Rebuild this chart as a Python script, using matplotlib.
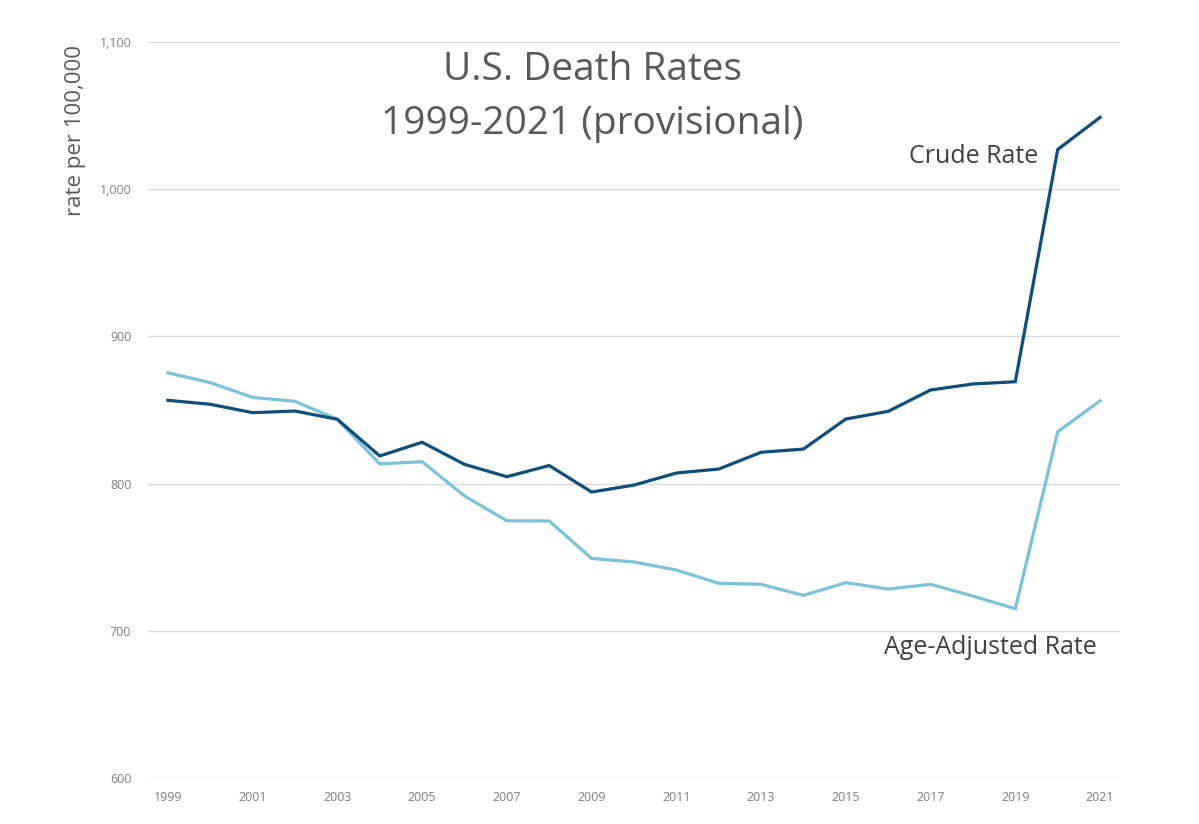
import matplotlib.pyplot as plt

plt.rcParams['font.family'] = ['Open Sans', 'DejaVu Sans']

# data
years = list(range(1999, 2022))
crude = [856.6, 853.9, 848.2, 849.3, 843.7, 818.8, 828.1, 813.1, 804.7, 812.3,
         794.3, 799.0, 807.2, 809.9, 821.3, 823.5, 843.9, 849.1, 863.6, 867.7,
         869.2, 1027.0, 1048.8]
age_adj = [875.3, 868.6, 858.6, 855.9, 843.7, 813.4, 814.9, 791.6, 774.8, 774.6,
           749.2, 746.8, 741.3, 732.3, 731.6, 724.1, 732.7, 728.4, 731.6, 723.6,
           715.0, 835.2, 856.3]
yticks = [600, 700, 800, 900, 1000, 1100]
xticks = list(range(1999, 2022, 2))

fig = plt.figure(figsize=(11.99, 8.24), dpi=100)
ax = fig.add_axes([0.1234, 0.0558, 0.8107, 0.8932])

ax.plot(years, age_adj, color='#78C3D7', lw=2.3, solid_joinstyle='miter')
ax.plot(years, crude, color='#0E4E7B', lw=2.3, solid_joinstyle='miter')

ax.set_xlim(1998.53, 2021.47)
ax.set_ylim(600, 1100)
ax.set_yticks(yticks)
ax.set_yticklabels([f'{v:,}' for v in yticks])
ax.set_xticks(xticks)
ax.yaxis.grid(True, color='#D9D9D9', lw=1)
ax.set_axisbelow(True)
for s in ax.spines.values():
    s.set_visible(False)
ax.tick_params(length=0, labelsize=9, colors='#7F7F7F')
ax.tick_params(axis='y', pad=12)
ax.tick_params(axis='x', pad=9)

fig.text(0.0626, 0.842, 'rate per 100,000', rotation=90, ha='center', va='center',
         fontsize=16, color='#595959')

# title, two lines
fig.text(0.494, 1 - 70 / 824, 'U.S. Death Rates', ha='center', va='center',
         fontsize=28, color='#595959')
fig.text(0.494, 1 - 124 / 824, '1999-2021 (provisional)', ha='center', va='center',
         fontsize=28, color='#595959')

ax.text(2019.54, 1022, 'Crude Rate', fontsize=18, color='#404040', ha='right', va='center')
ax.text(2020.91, 689, 'Age-Adjusted Rate', fontsize=18, color='#404040', ha='right', va='center')

fig.savefig('out.png', dpi=100)
